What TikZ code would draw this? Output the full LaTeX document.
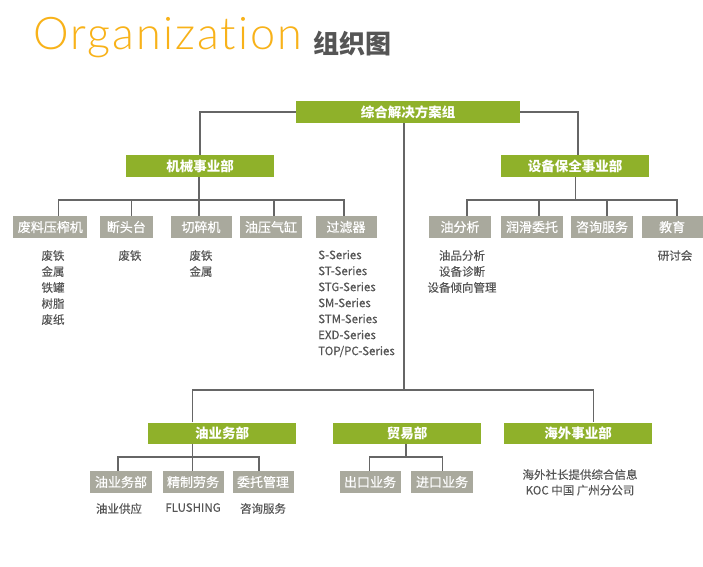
\documentclass[tikz,border=0pt]{standalone}
\usepackage{fontspec}
\setmainfont{Noto Sans CJK SC}
\newfontfamily\titlefont[Ligatures=NoCommon, LetterSpace=4.5]{Lato Light}
\newfontfamily\medfont[FakeBold=0.6]{Noto Sans CJK SC}
\newfontfamily\notefont[FakeBold=0.25]{Noto Sans CJK SC}
\definecolor{orggreen}{HTML}{8FB12A}
\definecolor{orggray}{HTML}{A9A99D}
\definecolor{orgline}{HTML}{666666}
\definecolor{orgtext}{HTML}{555555}
\definecolor{orgtitle}{HTML}{F8B219}
\begin{document}
\begin{tikzpicture}[x=1pt, y=-1pt,
    grp/.style={fill=orggreen, text=white, minimum width=148, minimum height=22, inner sep=0,
      font=\bfseries\fontsize{13.5}{14}\selectfont},
    unit/.style={fill=orggray, text=white, minimum height=22, inner sep=0,
      font=\medfont\fontsize{13}{14}\selectfont},
    note/.style={text=orgtext, align=center, inner sep=0, anchor=north,
      font=\notefont\fontsize{11.5}{16}\selectfont},
    link/.style={orgline, line width=1.3}]
  \useasboundingbox[fill=white] (0,0) rectangle (703,566);

  % title
  \node[anchor=base west, inner sep=0, text=orgtitle, font=\titlefont\fontsize{45}{47}\selectfont] (title) at (33,49) {Organization};
  \node[anchor=base west, inner sep=0, text=orgtext, font=\bfseries\fontsize{26}{28}\selectfont] (subtitle) at (313,53) {组织图};

  % head and first level
  \node[grp, minimum width=224] (top) at (408,112) {综合解决方案组};
  \node[grp] (mech) at (200,166) {机械事业部};
  \node[grp] (equip) at (575,166) {设备保全事业部};
  \draw[link] (top.west) -| (mech.north);
  \draw[link] (top.east) -| ([xshift=3]equip.north);

  % machinery units
  \node[unit, minimum width=74] (m1) at (50.3,227) {废料压榨机};
  \node[unit, minimum width=53] (m2) at (126.3,227) {断头台};
  \node[unit, minimum width=61] (m3) at (201,227) {切碎机};
  \node[unit, minimum width=62] (m4) at (271,227) {油压气缸};
  \node[unit, minimum width=61] (m5) at (346,227) {过滤器};
  \coordinate (mbus) at (199,200);
  \draw[link] ([xshift=-1]mech.south) -- (mbus);
  \foreach \u/\dx in {m1/8, m2/5, m3/-2, m4/3, m5/-2}
    \draw[link] (mbus) -| ([xshift=\dx]\u.north);

  % equipment units
  \node[unit, minimum width=62] (e1) at (460,227) {油分析};
  \node[unit, minimum width=62] (e2) at (532,227) {润滑委托};
  \node[unit, minimum width=62] (e3) at (602,227) {咨询服务};
  \node[unit, minimum width=61] (e4) at (672,227) {教育};
  \coordinate (ebus) at (575.7,200);
  \draw[link] ([xshift=0.7]equip.south) -- (ebus);
  \foreach \u/\dx in {e1/7, e2/7, e3/5, e4/5}
    \draw[link] (ebus) -| ([xshift=\dx]\u.north);

  % lists under the units
  \node[note] (m1list) at (53,250) {废铁\\金属\\铁罐\\树脂\\废纸};
  \node[note] (m2list) at (130,250) {废铁};
  \node[note] (m3list) at (201,250) {废铁\\金属};
  \node[note, anchor=north west, align=left] (m5list) at (318,250)
    {S-Series\\ST-Series\\STG-Series\\SM-Series\\STM-Series\\EXD-Series\\TOP/PC-Series};
  \node[note] (e1list) at (462,250) {油品分析\\设备诊断\\设备倾向管理};
  \node[note] (e4list) at (675,250) {研讨会};

  % lower departments
  \node[grp, minimum height=21] (oil) at (222,433) {油业务部};
  \node[grp, minimum height=21] (trade) at (407,433) {贸易部};
  \node[grp, minimum height=21] (abroad) at (578,433) {海外事业部};
  \coordinate (bus) at (404,390);
  \draw[link] ([xshift=-4]top.south) -- (bus);
  \draw[link] ([xshift=-29.3]oil.north) |- (bus) -| ([xshift=15.3]abroad.north);

  % oil units
  \node[unit] (o1) at (121,482) [minimum width=62] {油业务部};
  \node[unit] (o2) at (193,482) [minimum width=61] {精制劳务};
  \node[unit] (o3) at (263,482) [minimum width=61] {委托管理};
  \coordinate (obus) at (192.7,457);
  \draw[link] ([xshift=-29.3]oil.south) -- (obus);
  \foreach \u/\dx in {o1/-3, o2/-0.3, o3/-4}
    \draw[link] (obus) -| ([xshift=\dx]\u.north);

  % trade units
  \node[unit] (t1) at (370,482) [minimum width=61] {出口业务};
  \node[unit] (t2) at (442,482) [minimum width=62] {进口业务};
  \coordinate (tbus) at (406,457);
  \draw[link] ([xshift=-1]trade.south) -- (tbus);
  \foreach \u/\dx in {t1/-0.7, t2/0.3}
    \draw[link] (tbus) -| ([xshift=\dx]\u.north);

  % lists under the lower units
  \node[note] (o1list) at (119,503) {油业供应};
  \node[note] (o2list) at (193,503) {FLUSHING};
  \node[note] (o3list) at (263,503) {咨询服务};
  \node[note, font=\notefont\fontsize{11.5}{15.5}\selectfont] (abroadlist) at (580,469) {海外社长提供综合信息\\KOC 中国 广州分公司};
\end{tikzpicture}
\end{document}
